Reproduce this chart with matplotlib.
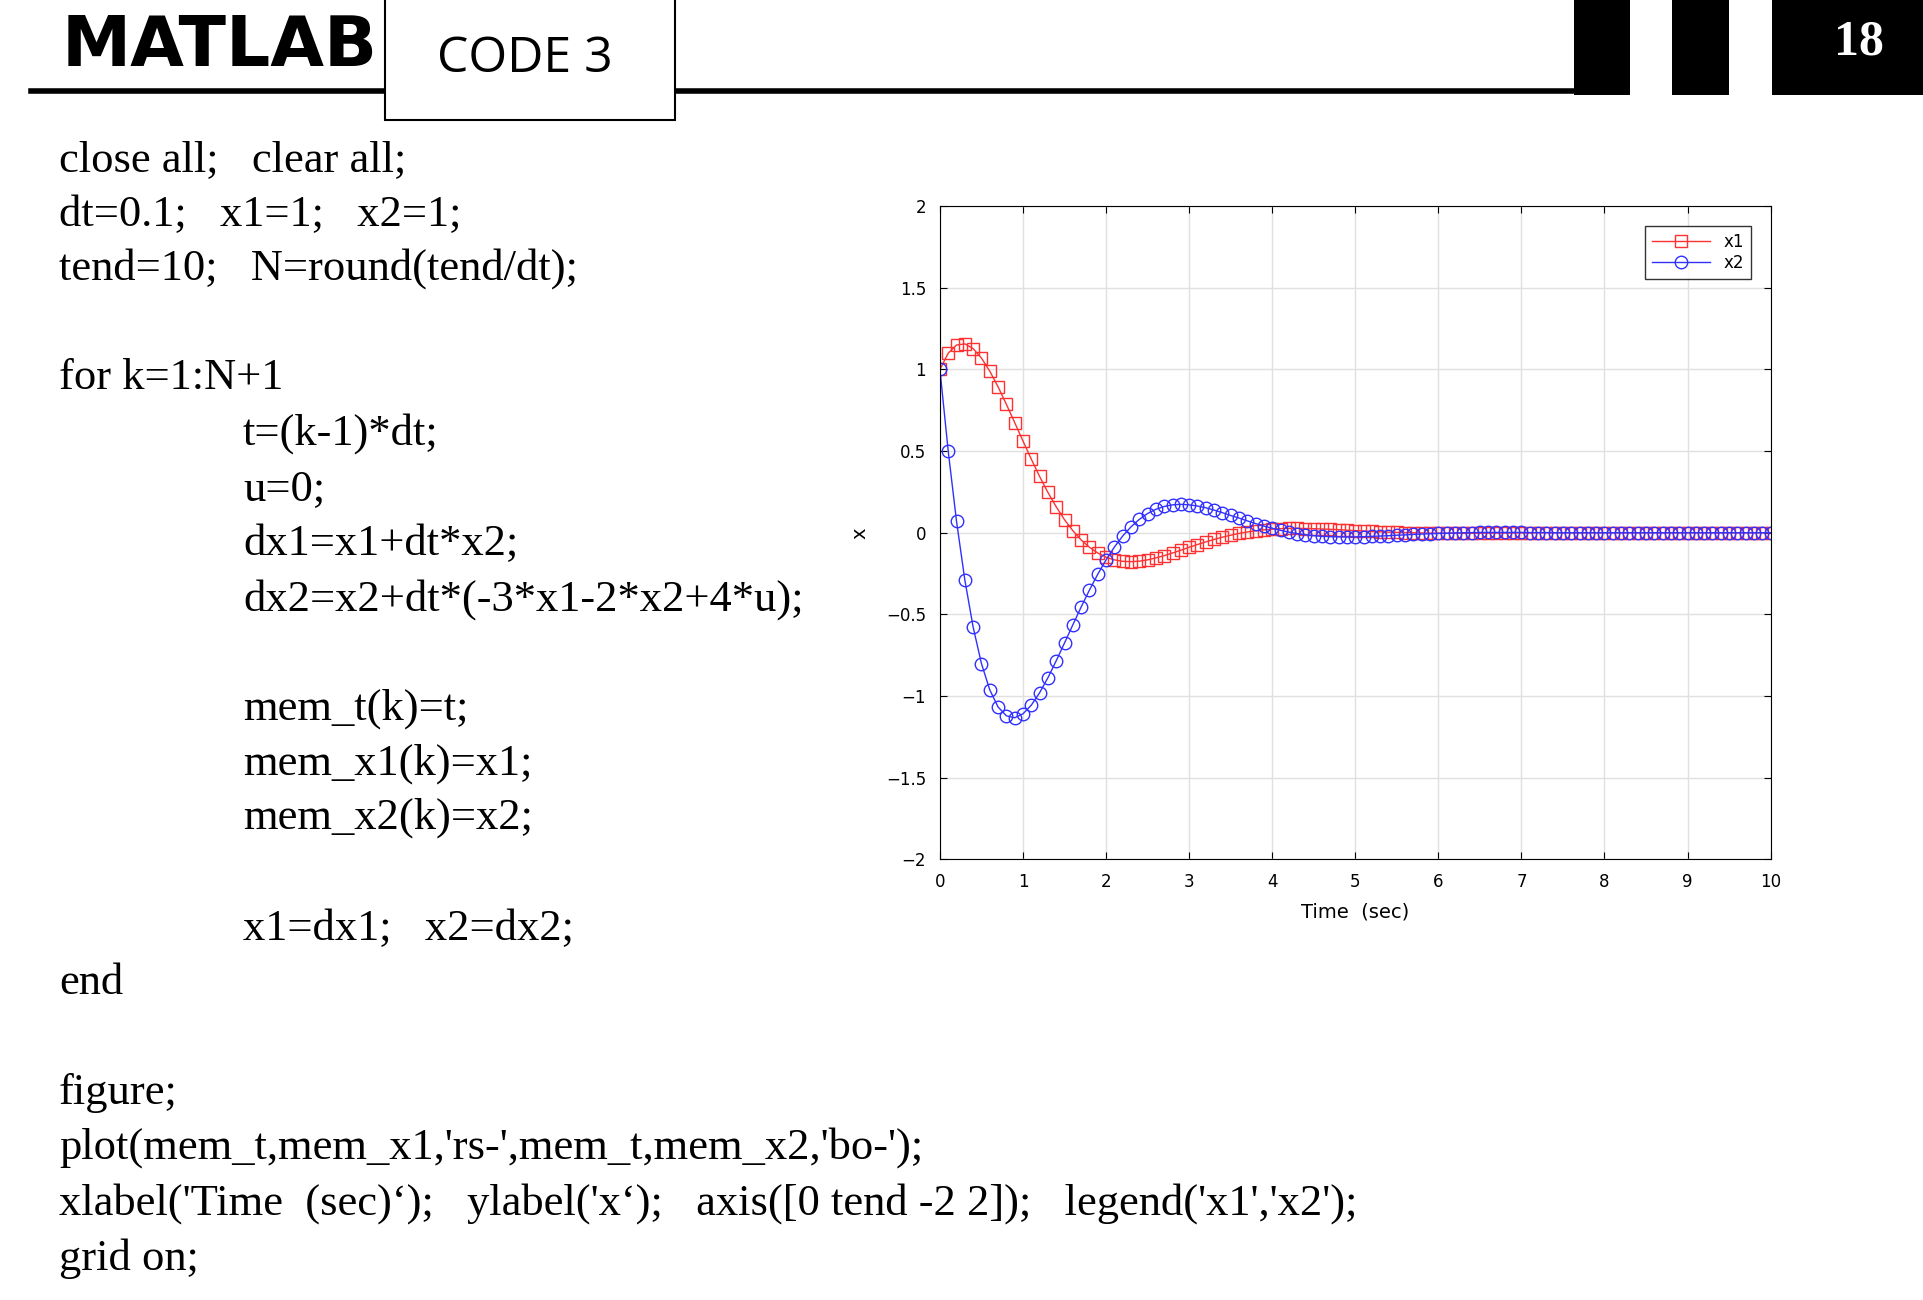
import matplotlib
matplotlib.use("Agg")
import matplotlib.pyplot as plt
from matplotlib.patches import Rectangle

t = [i / 10 for i in range(101)]
x1 = [1, 1.1, 1.15, 1.157, 1.128, 1.070, 0.990, 0.894, 0.787, 0.675,
      0.562, 0.451, 0.345, 0.247, 0.159, 0.080, 0.013, -0.044, -0.089, -0.124,
      -0.150, -0.166, -0.175, -0.177, -0.174, -0.166, -0.154, -0.140, -0.124, -0.107,
      -0.089, -0.072, -0.056, -0.041, -0.027, -0.015, -0.004, 0.005, 0.012, 0.018,
      0.022, 0.025, 0.027, 0.027, 0.026, 0.025, 0.023, 0.021, 0.019, 0.016,
      0.013, 0.011, 0.008, 0.006, 0.004, 0.002, 0.001, 0.0, -0.001, -0.002,
      -0.002, -0.003, -0.003, -0.003, -0.003, -0.003, -0.002, -0.002, -0.002, -0.001,
      -0.001, -0.001, 0.0, 0.0, 0.0, 0.0, 0.0, 0.0, 0.0, 0.0,
      0.0, 0.0, 0.0, 0.0, 0.0, 0.0, 0.0, 0.0, 0.0, 0.0,
      0.0, 0.0, 0.0, 0.0, 0.0, 0.0, 0.0, 0.0, 0.0, 0.0, 0.0]
x2 = [1, 0.5, 0.07, -0.289, -0.578, -0.801, -0.962, -1.067, -1.121, -1.133,
      -1.109, -1.056, -0.980, -0.888, -0.784, -0.675, -0.564, -0.455, -0.351, -0.254,
      -0.166, -0.088, -0.020, 0.036, 0.082, 0.118, 0.144, 0.161, 0.171, 0.174,
      0.171, 0.164, 0.153, 0.139, 0.123, 0.106, 0.090, 0.073, 0.056, 0.041,
      0.028, 0.015, 0.004, -0.005, -0.012, -0.018, -0.022, -0.024, -0.025, -0.026,
      -0.025, -0.024, -0.022, -0.020, -0.018, -0.015, -0.013, -0.010, -0.008, -0.006,
      -0.004, -0.003, -0.001, 0.0, 0.001, 0.002, 0.002, 0.002, 0.002, 0.002,
      0.002, 0.001, 0.001, 0.001, 0.0, 0.0, 0.0, 0.0, 0.0, 0.0,
      0.0, 0.0, 0.0, 0.0, 0.0, 0.0, 0.0, 0.0, 0.0, 0.0,
      0.0, 0.0, 0.0, 0.0, 0.0, 0.0, 0.0, 0.0, 0.0, 0.0, 0.0]
xticks = list(range(11))
yticks = [-2, -1.5, -1, -0.5, 0, 0.5, 1, 1.5, 2]
ytick_labels = ["\u22122", "\u22121.5", "\u22121", "\u22120.5", "0", "0.5", "1", "1.5", "2"]

code_lines = [
    (48, 130, "close all;   clear all;"),
    (48, 175, "dt=0.1;   x1=1;   x2=1;"),
    (48, 219, "tend=10;   N=round(tend/dt);"),
    (48, 308, "for k=1:N+1"),
    (198, 353, "t=(k-1)*dt;"),
    (198, 398, "u=0;"),
    (198, 443, "dx1=x1+dt*x2;"),
    (198, 488, "dx2=x2+dt*(-3*x1-2*x2+4*u);"),
    (198, 577, "mem_t(k)=t;"),
    (198, 622, "mem_x1(k)=x1;"),
    (198, 666, "mem_x2(k)=x2;"),
    (198, 757, "x1=dx1;   x2=dx2;"),
    (48, 801, "end"),
    (48, 890, "figure;"),
    (48, 935, "plot(mem_t,mem_x1,'rs-',mem_t,mem_x2,'bo-');"),
    (48, 980, "xlabel('Time  (sec)\u2018);   ylabel('x\u2018);   axis([0 tend -2 2]);   legend('x1','x2');"),
    (48, 1025, "grid on;"),
]

fig = plt.figure(figsize=(19.24, 13.0), dpi=100)
bg = fig.add_axes([0, 0, 1, 1])
bg.set_xlim(0, 1568)
bg.set_ylim(1059, 0)
bg.axis("off")

# header
bg.plot([25, 1290], [74, 74], color="black", lw=4)
bg.text(50, 38, "MATLAB", fontsize=50, fontweight="bold", family="DejaVu Sans", va="center")
bg.add_patch(Rectangle((314, -5), 236, 103, facecolor="white", edgecolor="black", lw=1.5, zorder=3))
bg.text(428, 48, "CODE 3", fontsize=36, family="Open Sans", ha="center", va="center", zorder=4)
for x0, w in [(1283, 45), (1363, 46), (1444, 124)]:
    bg.add_patch(Rectangle((x0, 0), w, 77, facecolor="black", edgecolor="none"))
bg.text(1515, 35, "18", fontsize=36, fontweight="bold", family="Liberation Serif",
        color="white", ha="center", va="center")

for x, y, s in code_lines:
    bg.text(x, y, s, fontsize=32, family="Liberation Serif", va="center")

ax = fig.add_axes([766 / 1568, 1 - 700 / 1059, 677 / 1568, 532 / 1059])
ax.plot(t, x1, "rs-", lw=1, markersize=8.5, markerfacecolor="none", label="x1", color="#ff3030")
ax.plot(t, x2, "bo-", lw=1, markersize=9, markerfacecolor="none", label="x2", color="#3030ff")
ax.set_xlim(0, 10)
ax.set_ylim(-2, 2)
ax.set_xticks(xticks)
ax.set_yticks(yticks)
ax.set_yticklabels(ytick_labels)
ax.tick_params(labelsize=12, direction="in", top=True, right=True, length=5, pad=10)
ax.grid(True, color="#e0e0e0", lw=1)
ax.set_xlabel("Time  (sec)", fontsize=14, labelpad=8)
ax.set_ylabel("x", fontsize=14, labelpad=12)
ax.legend(loc="upper right", fontsize=12, fancybox=False, edgecolor="black", handlelength=3.5,
          borderaxespad=1.2, labelspacing=0.2)

fig.savefig("out.png", dpi=100)
